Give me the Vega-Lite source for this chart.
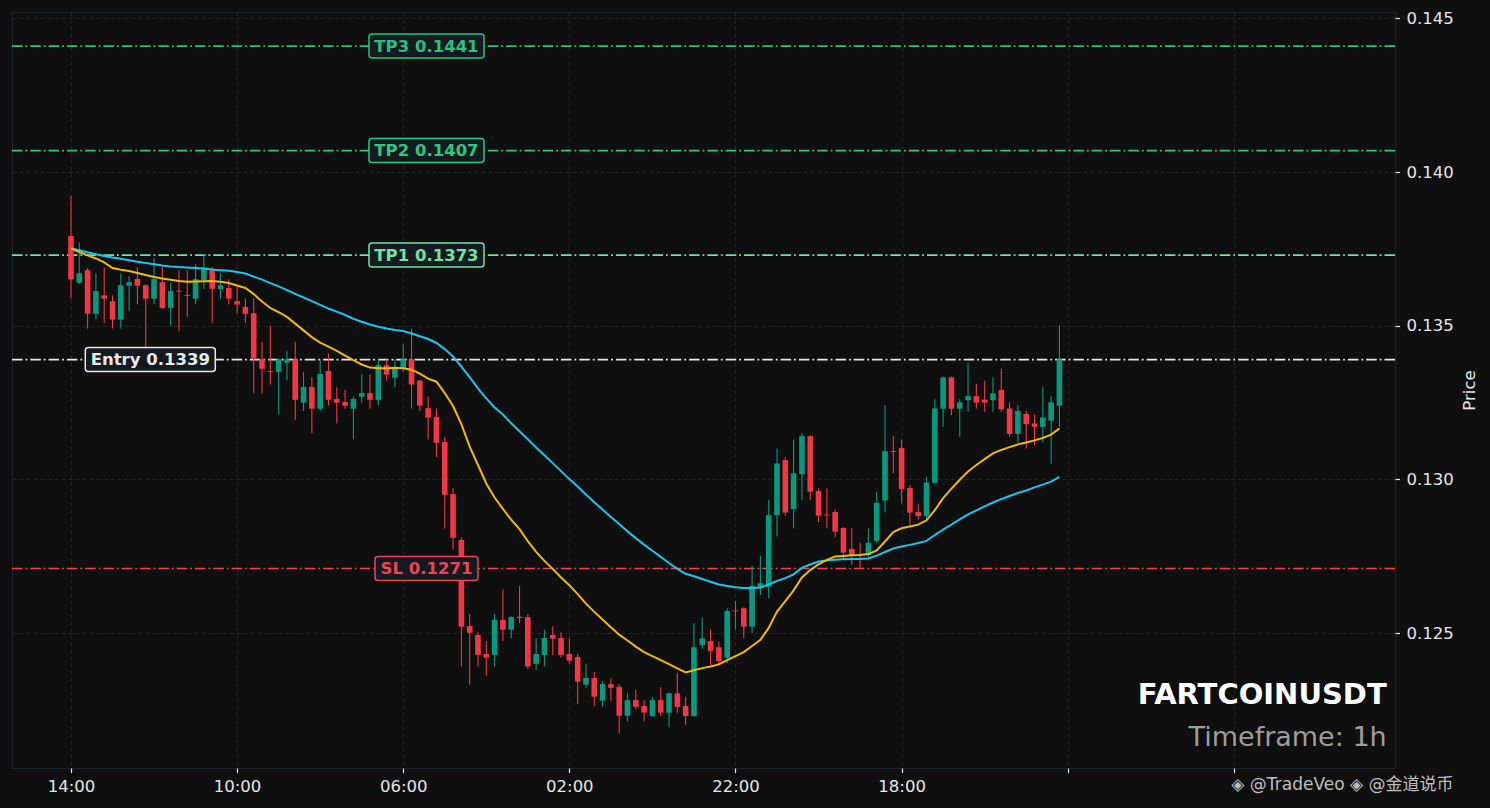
{
  "$schema": "https://vega.github.io/schema/vega-lite/v6.json",
  "width": 1383,
  "height": 756,
  "autosize": {"type": "none"},
  "padding": {"left": 12, "top": 12, "right": 95, "bottom": 40},
  "background": "#0f0f0f",
  "config": {
    "view": {"stroke": "#1e242c", "fill": "#0f0f0f"},
    "font": "DejaVu Sans",
    "scale": {"continuousPadding": 0},
    "axis": {
      "labelFont": "DejaVu Sans", "labelFontSize": 16.5, "labelColor": "#e6e6e6",
      "tickColor": "#e6e6e6", "tickSize": 4.5, "tickWidth": 1.2, "domain": false,
      "gridColor": "#2a2a2a", "gridDash": [4, 3], "gridWidth": 0.8,
      "titleFont": "DejaVu Sans", "titleFontSize": 16.5, "titleFontWeight": "normal", "titleColor": "#e6e6e6"
    }
  },
  "datasets": {
    "candles": [
      {"i":0,"o":0.13792,"h":0.13922,"l":0.13589,"c":0.13651,"fast":0.13752,"slow":0.13752},
      {"i":1,"o":0.13640,"h":0.13771,"l":0.13636,"c":0.13671,"fast":0.13740,"slow":0.13746},
      {"i":2,"o":0.13681,"h":0.13688,"l":0.13491,"c":0.13539,"fast":0.13729,"slow":0.13739},
      {"i":3,"o":0.13539,"h":0.13670,"l":0.13521,"c":0.13613,"fast":0.13719,"slow":0.13733},
      {"i":4,"o":0.13599,"h":0.13690,"l":0.13510,"c":0.13588,"fast":0.13706,"slow":0.13727},
      {"i":5,"o":0.13580,"h":0.13599,"l":0.13491,"c":0.13520,"fast":0.13688,"slow":0.13722},
      {"i":6,"o":0.13520,"h":0.13670,"l":0.13491,"c":0.13632,"fast":0.13682,"slow":0.13718},
      {"i":7,"o":0.13630,"h":0.13662,"l":0.13549,"c":0.13642,"fast":0.13678,"slow":0.13713},
      {"i":8,"o":0.13652,"h":0.13690,"l":0.13570,"c":0.13630,"fast":0.13672,"slow":0.13708},
      {"i":9,"o":0.13632,"h":0.13635,"l":0.13432,"c":0.13588,"fast":0.13665,"slow":0.13704},
      {"i":10,"o":0.13588,"h":0.13719,"l":0.13570,"c":0.13652,"fast":0.13659,"slow":0.13700},
      {"i":11,"o":0.13642,"h":0.13694,"l":0.13555,"c":0.13558,"fast":0.13654,"slow":0.13696},
      {"i":12,"o":0.13558,"h":0.13640,"l":0.13502,"c":0.13613,"fast":0.13650,"slow":0.13693},
      {"i":13,"o":0.13614,"h":0.13681,"l":0.13482,"c":0.13611,"fast":0.13646,"slow":0.13691},
      {"i":14,"o":0.13600,"h":0.13681,"l":0.13529,"c":0.13597,"fast":0.13643,"slow":0.13690},
      {"i":15,"o":0.13588,"h":0.13700,"l":0.13570,"c":0.13652,"fast":0.13644,"slow":0.13688},
      {"i":16,"o":0.13649,"h":0.13730,"l":0.13620,"c":0.13689,"fast":0.13645,"slow":0.13686},
      {"i":17,"o":0.13681,"h":0.13692,"l":0.13510,"c":0.13620,"fast":0.13646,"slow":0.13683},
      {"i":18,"o":0.13620,"h":0.13670,"l":0.13588,"c":0.13632,"fast":0.13643,"slow":0.13681},
      {"i":19,"o":0.13623,"h":0.13651,"l":0.13570,"c":0.13588,"fast":0.13639,"slow":0.13679},
      {"i":20,"o":0.13580,"h":0.13629,"l":0.13539,"c":0.13569,"fast":0.13631,"slow":0.13675},
      {"i":21,"o":0.13561,"h":0.13589,"l":0.13510,"c":0.13539,"fast":0.13623,"slow":0.13670},
      {"i":22,"o":0.13541,"h":0.13589,"l":0.13280,"c":0.13392,"fast":0.13603,"slow":0.13660},
      {"i":23,"o":0.13391,"h":0.13448,"l":0.13280,"c":0.13360,"fast":0.13579,"slow":0.13650},
      {"i":24,"o":0.13353,"h":0.13500,"l":0.13309,"c":0.13350,"fast":0.13558,"slow":0.13639},
      {"i":25,"o":0.13350,"h":0.13393,"l":0.13212,"c":0.13391,"fast":0.13544,"slow":0.13628},
      {"i":26,"o":0.13380,"h":0.13419,"l":0.13323,"c":0.13391,"fast":0.13529,"slow":0.13616},
      {"i":27,"o":0.13391,"h":0.13448,"l":0.13193,"c":0.13259,"fast":0.13507,"slow":0.13604},
      {"i":28,"o":0.13250,"h":0.13350,"l":0.13223,"c":0.13301,"fast":0.13485,"slow":0.13592},
      {"i":29,"o":0.13301,"h":0.13332,"l":0.13150,"c":0.13230,"fast":0.13463,"slow":0.13580},
      {"i":30,"o":0.13230,"h":0.13391,"l":0.13223,"c":0.13343,"fast":0.13445,"slow":0.13568},
      {"i":31,"o":0.13353,"h":0.13410,"l":0.13241,"c":0.13259,"fast":0.13432,"slow":0.13556},
      {"i":32,"o":0.13262,"h":0.13300,"l":0.13182,"c":0.13250,"fast":0.13418,"slow":0.13546},
      {"i":33,"o":0.13252,"h":0.13291,"l":0.13230,"c":0.13240,"fast":0.13403,"slow":0.13535},
      {"i":34,"o":0.13230,"h":0.13271,"l":0.13131,"c":0.13262,"fast":0.13388,"slow":0.13523},
      {"i":35,"o":0.13269,"h":0.13342,"l":0.13250,"c":0.13281,"fast":0.13374,"slow":0.13513},
      {"i":36,"o":0.13281,"h":0.13342,"l":0.13230,"c":0.13259,"fast":0.13364,"slow":0.13504},
      {"i":37,"o":0.13259,"h":0.13391,"l":0.13241,"c":0.13372,"fast":0.13362,"slow":0.13497},
      {"i":38,"o":0.13372,"h":0.13391,"l":0.13321,"c":0.13341,"fast":0.13362,"slow":0.13491},
      {"i":39,"o":0.13331,"h":0.13391,"l":0.13300,"c":0.13360,"fast":0.13363,"slow":0.13486},
      {"i":40,"o":0.13360,"h":0.13440,"l":0.13350,"c":0.13391,"fast":0.13362,"slow":0.13483},
      {"i":41,"o":0.13391,"h":0.13491,"l":0.13231,"c":0.13309,"fast":0.13357,"slow":0.13475},
      {"i":42,"o":0.13322,"h":0.13324,"l":0.13223,"c":0.13240,"fast":0.13344,"slow":0.13466},
      {"i":43,"o":0.13232,"h":0.13270,"l":0.13130,"c":0.13201,"fast":0.13328,"slow":0.13457},
      {"i":44,"o":0.13203,"h":0.13231,"l":0.13073,"c":0.13119,"fast":0.13318,"slow":0.13444},
      {"i":45,"o":0.13122,"h":0.13140,"l":0.12840,"c":0.12950,"fast":0.13281,"slow":0.13424},
      {"i":46,"o":0.12952,"h":0.12971,"l":0.12773,"c":0.12810,"fast":0.13239,"slow":0.13400},
      {"i":47,"o":0.12803,"h":0.12812,"l":0.12391,"c":0.12521,"fast":0.13180,"slow":0.13367},
      {"i":48,"o":0.12523,"h":0.12562,"l":0.12333,"c":0.12501,"fast":0.13107,"slow":0.13333},
      {"i":49,"o":0.12494,"h":0.12503,"l":0.12391,"c":0.12429,"fast":0.13047,"slow":0.13296},
      {"i":50,"o":0.12432,"h":0.12474,"l":0.12361,"c":0.12420,"fast":0.12987,"slow":0.13264},
      {"i":51,"o":0.12429,"h":0.12562,"l":0.12391,"c":0.12543,"fast":0.12941,"slow":0.13234},
      {"i":52,"o":0.12543,"h":0.12642,"l":0.12474,"c":0.12511,"fast":0.12904,"slow":0.13211},
      {"i":53,"o":0.12511,"h":0.12555,"l":0.12482,"c":0.12552,"fast":0.12869,"slow":0.13183},
      {"i":54,"o":0.12553,"h":0.12653,"l":0.12532,"c":0.12549,"fast":0.12838,"slow":0.13157},
      {"i":55,"o":0.12552,"h":0.12562,"l":0.12383,"c":0.12391,"fast":0.12799,"slow":0.13131},
      {"i":56,"o":0.12400,"h":0.12483,"l":0.12381,"c":0.12432,"fast":0.12764,"slow":0.13104},
      {"i":57,"o":0.12429,"h":0.12512,"l":0.12391,"c":0.12484,"fast":0.12735,"slow":0.13079},
      {"i":58,"o":0.12494,"h":0.12522,"l":0.12429,"c":0.12482,"fast":0.12709,"slow":0.13053},
      {"i":59,"o":0.12484,"h":0.12503,"l":0.12420,"c":0.12429,"fast":0.12681,"slow":0.13027},
      {"i":60,"o":0.12432,"h":0.12483,"l":0.12400,"c":0.12410,"fast":0.12656,"slow":0.13001},
      {"i":61,"o":0.12422,"h":0.12432,"l":0.12270,"c":0.12342,"fast":0.12627,"slow":0.12977},
      {"i":62,"o":0.12332,"h":0.12400,"l":0.12322,"c":0.12354,"fast":0.12596,"slow":0.12951},
      {"i":63,"o":0.12354,"h":0.12373,"l":0.12262,"c":0.12293,"fast":0.12569,"slow":0.12926},
      {"i":64,"o":0.12280,"h":0.12343,"l":0.12262,"c":0.12334,"fast":0.12544,"slow":0.12902},
      {"i":65,"o":0.12334,"h":0.12354,"l":0.12280,"c":0.12322,"fast":0.12519,"slow":0.12878},
      {"i":66,"o":0.12325,"h":0.12334,"l":0.12174,"c":0.12231,"fast":0.12495,"slow":0.12855},
      {"i":67,"o":0.12231,"h":0.12304,"l":0.12212,"c":0.12282,"fast":0.12476,"slow":0.12831},
      {"i":68,"o":0.12282,"h":0.12315,"l":0.12252,"c":0.12260,"fast":0.12456,"slow":0.12809},
      {"i":69,"o":0.12263,"h":0.12282,"l":0.12212,"c":0.12241,"fast":0.12438,"slow":0.12788},
      {"i":70,"o":0.12230,"h":0.12293,"l":0.12228,"c":0.12282,"fast":0.12425,"slow":0.12768},
      {"i":71,"o":0.12282,"h":0.12324,"l":0.12230,"c":0.12241,"fast":0.12412,"slow":0.12748},
      {"i":72,"o":0.12241,"h":0.12306,"l":0.12194,"c":0.12304,"fast":0.12399,"slow":0.12728},
      {"i":73,"o":0.12304,"h":0.12371,"l":0.12241,"c":0.12260,"fast":0.12385,"slow":0.12709},
      {"i":74,"o":0.12263,"h":0.12293,"l":0.12202,"c":0.12230,"fast":0.12372,"slow":0.12693},
      {"i":75,"o":0.12230,"h":0.12532,"l":0.12228,"c":0.12454,"fast":0.12379,"slow":0.12685},
      {"i":76,"o":0.12461,"h":0.12551,"l":0.12450,"c":0.12483,"fast":0.12386,"slow":0.12676},
      {"i":77,"o":0.12474,"h":0.12512,"l":0.12396,"c":0.12442,"fast":0.12391,"slow":0.12667},
      {"i":78,"o":0.12454,"h":0.12472,"l":0.12402,"c":0.12409,"fast":0.12398,"slow":0.12658},
      {"i":79,"o":0.12420,"h":0.12581,"l":0.12402,"c":0.12572,"fast":0.12412,"slow":0.12653},
      {"i":80,"o":0.12574,"h":0.12604,"l":0.12512,"c":0.12571,"fast":0.12425,"slow":0.12649},
      {"i":81,"o":0.12581,"h":0.12584,"l":0.12483,"c":0.12521,"fast":0.12438,"slow":0.12647},
      {"i":82,"o":0.12521,"h":0.12719,"l":0.12501,"c":0.12654,"fast":0.12458,"slow":0.12647},
      {"i":83,"o":0.12651,"h":0.12752,"l":0.12624,"c":0.12662,"fast":0.12478,"slow":0.12648},
      {"i":84,"o":0.12651,"h":0.12933,"l":0.12613,"c":0.12884,"fast":0.12517,"slow":0.12658},
      {"i":85,"o":0.12884,"h":0.13101,"l":0.12814,"c":0.13052,"fast":0.12570,"slow":0.12670},
      {"i":86,"o":0.13063,"h":0.13072,"l":0.12882,"c":0.12892,"fast":0.12604,"slow":0.12679},
      {"i":87,"o":0.12903,"h":0.13130,"l":0.12841,"c":0.13020,"fast":0.12639,"slow":0.12691},
      {"i":88,"o":0.13017,"h":0.13150,"l":0.12933,"c":0.13141,"fast":0.12681,"slow":0.12712},
      {"i":89,"o":0.13141,"h":0.13144,"l":0.12933,"c":0.12960,"fast":0.12705,"slow":0.12723},
      {"i":90,"o":0.12962,"h":0.12971,"l":0.12861,"c":0.12882,"fast":0.12724,"slow":0.12733},
      {"i":91,"o":0.12886,"h":0.12971,"l":0.12841,"c":0.12883,"fast":0.12738,"slow":0.12736},
      {"i":92,"o":0.12894,"h":0.12903,"l":0.12812,"c":0.12830,"fast":0.12749,"slow":0.12739},
      {"i":93,"o":0.12842,"h":0.12845,"l":0.12738,"c":0.12762,"fast":0.12751,"slow":0.12740},
      {"i":94,"o":0.12774,"h":0.12842,"l":0.12722,"c":0.12754,"fast":0.12753,"slow":0.12741},
      {"i":95,"o":0.12756,"h":0.12794,"l":0.12713,"c":0.12753,"fast":0.12754,"slow":0.12741},
      {"i":96,"o":0.12754,"h":0.12841,"l":0.12743,"c":0.12794,"fast":0.12757,"slow":0.12743},
      {"i":97,"o":0.12800,"h":0.12960,"l":0.12794,"c":0.12924,"fast":0.12769,"slow":0.12752},
      {"i":98,"o":0.12931,"h":0.13242,"l":0.12892,"c":0.13092,"fast":0.12798,"slow":0.12764},
      {"i":99,"o":0.13092,"h":0.13141,"l":0.13020,"c":0.13089,"fast":0.12829,"slow":0.12775},
      {"i":100,"o":0.13102,"h":0.13130,"l":0.12922,"c":0.12969,"fast":0.12841,"slow":0.12782},
      {"i":101,"o":0.12972,"h":0.12982,"l":0.12852,"c":0.12892,"fast":0.12847,"slow":0.12787},
      {"i":102,"o":0.12894,"h":0.12922,"l":0.12870,"c":0.12881,"fast":0.12853,"slow":0.12793},
      {"i":103,"o":0.12881,"h":0.13009,"l":0.12870,"c":0.12990,"fast":0.12867,"slow":0.12800},
      {"i":104,"o":0.12989,"h":0.13261,"l":0.12985,"c":0.13231,"fast":0.12900,"slow":0.12819},
      {"i":105,"o":0.13230,"h":0.13335,"l":0.13171,"c":0.13332,"fast":0.12939,"slow":0.12837},
      {"i":106,"o":0.13332,"h":0.13335,"l":0.13209,"c":0.13230,"fast":0.12970,"slow":0.12853},
      {"i":107,"o":0.13230,"h":0.13261,"l":0.13139,"c":0.13251,"fast":0.12999,"slow":0.12870},
      {"i":108,"o":0.13258,"h":0.13380,"l":0.13220,"c":0.13271,"fast":0.13026,"slow":0.12886},
      {"i":109,"o":0.13271,"h":0.13311,"l":0.13231,"c":0.13250,"fast":0.13047,"slow":0.12899},
      {"i":110,"o":0.13260,"h":0.13321,"l":0.13220,"c":0.13250,"fast":0.13066,"slow":0.12912},
      {"i":111,"o":0.13258,"h":0.13332,"l":0.13220,"c":0.13280,"fast":0.13085,"slow":0.12925},
      {"i":112,"o":0.13291,"h":0.13361,"l":0.13220,"c":0.13228,"fast":0.13096,"slow":0.12936},
      {"i":113,"o":0.13231,"h":0.13251,"l":0.13139,"c":0.13148,"fast":0.13105,"slow":0.12946},
      {"i":114,"o":0.13148,"h":0.13242,"l":0.13119,"c":0.13223,"fast":0.13114,"slow":0.12956},
      {"i":115,"o":0.13213,"h":0.13223,"l":0.13101,"c":0.13180,"fast":0.13120,"slow":0.12964},
      {"i":116,"o":0.13182,"h":0.13212,"l":0.13112,"c":0.13171,"fast":0.13127,"slow":0.12974},
      {"i":117,"o":0.13171,"h":0.13300,"l":0.13119,"c":0.13202,"fast":0.13135,"slow":0.12983},
      {"i":118,"o":0.13191,"h":0.13271,"l":0.13052,"c":0.13251,"fast":0.13146,"slow":0.12993},
      {"i":119,"o":0.13240,"h":0.13502,"l":0.13171,"c":0.13391,"fast":0.13166,"slow":0.13008}
    ],
    "levels": [
      {"name": "TP3", "price": 0.1441, "label": "TP3 0.1441", "at": 42.8},
      {"name": "TP2", "price": 0.1407, "label": "TP2 0.1407", "at": 42.8},
      {"name": "TP1", "price": 0.1373, "label": "TP1 0.1373", "at": 42.8},
      {"name": "Entry", "price": 0.1339, "label": "Entry 0.1339", "at": 9.55},
      {"name": "SL", "price": 0.1271, "label": "SL 0.1271", "at": 42.8}
    ],
    "notes": [
      {"kind": "symbol", "x": 158.4, "y": 0.12269, "text": "FARTCOINUSDT"},
      {"kind": "tf", "x": 158.4, "y": 0.12133, "text": "Timeframe: 1h"},
      {"kind": "wm", "x": 139.7, "y": 0.11990, "text": "◈ @TradeVeo ◈ @金道说币"}
    ]
  },
  "layer": [
    {
      "data": {"name": "levels"},
      "mark": {"type": "rule", "strokeDash": [10.5, 3, 1.8, 3], "strokeWidth": 1.6},
      "encoding": {
        "y": {"field": "price", "type": "quantitative", "scale": {"domain": [0.12061, 0.14521], "nice": false, "zero": false, "padding": 0},
              "axis": {"orient": "right", "values": [0.125, 0.13, 0.135, 0.14, 0.145], "format": ".3f", "labelPadding": 6.5,
                       "title": "Price", "titleAngle": 270, "titleX": 74, "titleY": 378, "titleAlign": "center", "titleBaseline": "middle"}},
        "color": {"field": "name", "type": "nominal", "legend": null,
                  "scale": {"domain": ["TP3", "TP2", "TP1", "Entry", "SL"], "range": ["#26c281", "#2bc983", "#6fe3a2", "#e8e8e8", "#ef4458"]}}
      }
    },
    {
      "data": {"name": "candles"},
      "mark": {"type": "rule", "strokeWidth": 1.1},
      "encoding": {
        "x": {"field": "i", "type": "quantitative", "scale": {"domain": [-7.1, 159.4], "nice": false, "zero": false, "padding": 0},
              "axis": {"values": [0, 20, 40, 60, 80, 100, 120, 140], "title": null, "labelPadding": 6, "labelFlush": false, "labelOverlap": false,
                       "labelExpr": "datum.value > 100 ? '' : ((((14 + datum.value) % 24) < 10 ? '0' : '') + ((14 + datum.value) % 24) + ':00')"}},
        "y": {"field": "l", "type": "quantitative", "scale": {"domain": [0.12061, 0.14521], "nice": false, "zero": false, "padding": 0}},
        "y2": {"field": "h"},
        "color": {"condition": {"test": "datum.c >= datum.o", "value": "#089981"}, "value": "#f23645"}
      }
    },
    {
      "data": {"name": "candles"},
      "mark": {"type": "bar", "width": 5.6},
      "encoding": {
        "x": {"field": "i", "type": "quantitative", "scale": {"domain": [-7.1, 159.4], "nice": false, "zero": false, "padding": 0}},
        "y": {"field": "o", "type": "quantitative", "scale": {"domain": [0.12061, 0.14521], "nice": false, "zero": false, "padding": 0}},
        "y2": {"field": "c"},
        "color": {"condition": {"test": "datum.c >= datum.o", "value": "#089981"}, "value": "#f23645"}
      }
    },
    {
      "data": {"name": "candles"},
      "mark": {"type": "line", "color": "#18c6ef", "strokeWidth": 2},
      "encoding": {
        "x": {"field": "i", "type": "quantitative", "scale": {"domain": [-7.1, 159.4], "nice": false, "zero": false, "padding": 0}},
        "y": {"field": "slow", "type": "quantitative", "scale": {"domain": [0.12061, 0.14521], "nice": false, "zero": false, "padding": 0}}
      }
    },
    {
      "data": {"name": "candles"},
      "mark": {"type": "line", "color": "#f0b90b", "strokeWidth": 2},
      "encoding": {
        "x": {"field": "i", "type": "quantitative", "scale": {"domain": [-7.1, 159.4], "nice": false, "zero": false, "padding": 0}},
        "y": {"field": "fast", "type": "quantitative", "scale": {"domain": [0.12061, 0.14521], "nice": false, "zero": false, "padding": 0}}
      }
    },
    {
      "data": {"name": "levels"},
      "transform": [{"filter": "indexof(['TP3','TP2','TP1'], datum.name) >= 0"}],
      "mark": {"type": "rect", "width": 115, "height": 24, "cornerRadius": 3, "fill": "#151a20", "strokeWidth": 1.5},
      "encoding": {
        "x": {"field": "at", "type": "quantitative", "scale": {"domain": [-7.1, 159.4], "nice": false, "zero": false, "padding": 0}},
        "y": {"field": "price", "type": "quantitative", "scale": {"domain": [0.12061, 0.14521], "nice": false, "zero": false, "padding": 0}},
        "stroke": {"field": "name", "type": "nominal", "legend": null,
                   "scale": {"domain": ["TP3", "TP2", "TP1", "Entry", "SL"], "range": ["#26c281", "#2bc983", "#6fe3a2", "#e8e8e8", "#ef4458"]}}
      }
    },
    {
      "data": {"name": "levels"},
      "transform": [{"filter": "datum.name === 'Entry'"}],
      "mark": {"type": "rect", "width": 130, "height": 24, "cornerRadius": 3, "fill": "#151a20", "strokeWidth": 1.5},
      "encoding": {
        "x": {"field": "at", "type": "quantitative", "scale": {"domain": [-7.1, 159.4], "nice": false, "zero": false, "padding": 0}},
        "y": {"field": "price", "type": "quantitative", "scale": {"domain": [0.12061, 0.14521], "nice": false, "zero": false, "padding": 0}},
        "stroke": {"field": "name", "type": "nominal", "legend": null,
                   "scale": {"domain": ["TP3", "TP2", "TP1", "Entry", "SL"], "range": ["#26c281", "#2bc983", "#6fe3a2", "#e8e8e8", "#ef4458"]}}
      }
    },
    {
      "data": {"name": "levels"},
      "transform": [{"filter": "datum.name === 'SL'"}],
      "mark": {"type": "rect", "width": 103, "height": 24, "cornerRadius": 3, "fill": "#151a20", "strokeWidth": 1.5},
      "encoding": {
        "x": {"field": "at", "type": "quantitative", "scale": {"domain": [-7.1, 159.4], "nice": false, "zero": false, "padding": 0}},
        "y": {"field": "price", "type": "quantitative", "scale": {"domain": [0.12061, 0.14521], "nice": false, "zero": false, "padding": 0}},
        "stroke": {"field": "name", "type": "nominal", "legend": null,
                   "scale": {"domain": ["TP3", "TP2", "TP1", "Entry", "SL"], "range": ["#26c281", "#2bc983", "#6fe3a2", "#e8e8e8", "#ef4458"]}}
      }
    },
    {
      "data": {"name": "levels"},
      "mark": {"type": "text", "fontWeight": "bold", "fontSize": 16.5, "font": "DejaVu Sans", "align": "center", "baseline": "middle", "dy": 0.5},
      "encoding": {
        "x": {"field": "at", "type": "quantitative", "scale": {"domain": [-7.1, 159.4], "nice": false, "zero": false, "padding": 0}},
        "y": {"field": "price", "type": "quantitative", "scale": {"domain": [0.12061, 0.14521], "nice": false, "zero": false, "padding": 0}},
        "text": {"field": "label"},
        "color": {"field": "name", "type": "nominal", "legend": null,
                  "scale": {"domain": ["TP3", "TP2", "TP1", "Entry", "SL"], "range": ["#26c281", "#2bc983", "#6fe3a2", "#ffffff", "#ef4458"]}}
      }
    },
    {
      "data": {"name": "notes"},
      "transform": [{"filter": "datum.kind === 'symbol'"}],
      "mark": {"type": "text", "fontWeight": "bold", "fontSize": 29, "font": "DejaVu Sans", "align": "right", "baseline": "alphabetic", "color": "#ffffff"},
      "encoding": {
        "x": {"field": "x", "type": "quantitative", "scale": {"domain": [-7.1, 159.4], "nice": false, "zero": false, "padding": 0}},
        "y": {"field": "y", "type": "quantitative", "scale": {"domain": [0.12061, 0.14521], "nice": false, "zero": false, "padding": 0}},
        "text": {"field": "text"}
      }
    },
    {
      "data": {"name": "notes"},
      "transform": [{"filter": "datum.kind === 'tf'"}],
      "mark": {"type": "text", "fontSize": 27, "font": "DejaVu Sans", "align": "right", "baseline": "alphabetic", "color": "#9e9e9e"},
      "encoding": {
        "x": {"field": "x", "type": "quantitative", "scale": {"domain": [-7.1, 159.4], "nice": false, "zero": false, "padding": 0}},
        "y": {"field": "y", "type": "quantitative", "scale": {"domain": [0.12061, 0.14521], "nice": false, "zero": false, "padding": 0}},
        "text": {"field": "text"}
      }
    },
    {
      "data": {"name": "notes"},
      "transform": [{"filter": "datum.kind === 'wm'"}],
      "mark": {"type": "text", "fontSize": 17, "font": "DejaVu Sans, Noto Sans CJK SC", "align": "left", "baseline": "alphabetic", "color": "#dcdcdc", "opacity": 0.85},
      "encoding": {
        "x": {"field": "x", "type": "quantitative", "scale": {"domain": [-7.1, 159.4], "nice": false, "zero": false, "padding": 0}},
        "y": {"field": "y", "type": "quantitative", "scale": {"domain": [0.12061, 0.14521], "nice": false, "zero": false, "padding": 0}},
        "text": {"field": "text"}
      }
    }
  ]
}
